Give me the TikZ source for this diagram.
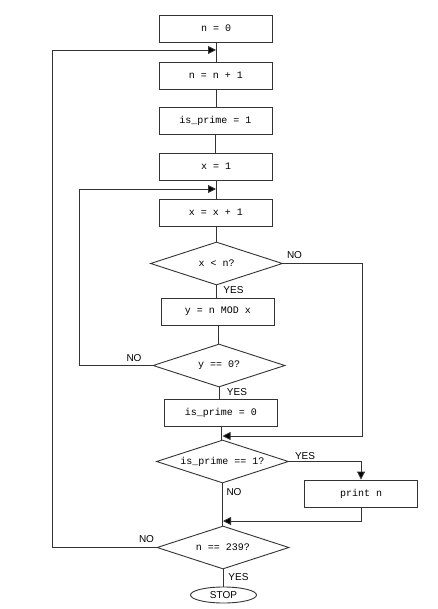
\documentclass[tikz,border=0pt]{standalone}
\usepackage{fontspec}
\setmainfont{Liberation Sans}
\newfontfamily\boxfont{Liberation Mono}
\usetikzlibrary{shapes.geometric,arrows.meta}
\tikzset{
  every picture/.style={x=1pt,y=-1pt},
  ln/.style={draw=black!80, line width=0.9pt},
  arr/.style={ln, -{Triangle[length=8pt,width=8pt,fill=black]}},
  procbox/.style={rectangle, ln, minimum width=113pt, minimum height=27pt, inner sep=0pt, font=\boxfont\fontsize{10}{12}\selectfont},
  decide/.style={diamond, ln, aspect=3.07, minimum width=132pt, minimum height=43pt, inner sep=0pt, font=\boxfont\fontsize{10}{12}\selectfont},
  term/.style={ellipse, ln, minimum width=66pt, minimum height=16pt, inner sep=0pt, font=\fontsize{10}{12}\selectfont},
  lbl/.style={inner sep=0pt, font=\fontsize{10}{12}\selectfont}
}
\begin{document}
\begin{tikzpicture}
\useasboundingbox[fill=white] (0,0) rectangle (437,609);
% nodes
\node[procbox] (n0)   at (216,28.5)  {n = 0};
\node[procbox] (n1)   at (216,75.5)  {n = n + 1};
\node[procbox] (ip1)  at (215.5,120.5) {is\_prime = 1};
\node[procbox] (x1)   at (216,166.5) {x = 1};
\node[procbox] (xx)   at (216,212.5) {x = x + 1};
\node[decide]  (d1)   at (216.5,263.5) {x < n?};
\node[procbox] (ym)   at (218,311.5) {y = n MOD x};
\node[decide]  (d2)   at (219,365.5) {y == 0?};
\node[procbox] (ip0)  at (221,413)   {is\_prime = 0};
\node[decide]  (d3)   at (222.5,461.5) {is\_prime == 1?};
\node[procbox] (pn)   at (361,493.5) {print n};
\node[decide]  (d4)   at (223,547.5) {n == 239?};
\node[term]    (stop) at (223.5,595) {STOP};
% labels
\node[lbl] (l1) at (294.5,255) {NO};
\node[lbl] (l2) at (233.5,290) {YES};
\node[lbl] (l3) at (134,358) {NO};
\node[lbl] (l4) at (237,392) {YES};
\node[lbl] (l5) at (305,456) {YES};
\node[lbl] (l6) at (234,492) {NO};
\node[lbl] (l7) at (146.5,539) {NO};
\node[lbl] (l8) at (238.5,577) {YES};
% junction coordinates
\coordinate (j1) at (216,50);
\coordinate (c1) at (52,50);
\coordinate (j2) at (216,189);
\coordinate (c2) at (79,189);
\coordinate (j3) at (222.5,436);
\coordinate (c3) at (362,436);
\coordinate (j4) at (223,521);
% connectors
\draw[ln] (n0.south) -- (n1.north);
\draw[ln] (n1.south) -- (n1.south |- ip1.north);
\draw[ln] (ip1.south) -- (ip1.south |- x1.north);
\draw[ln] (x1.south) -- (xx.north);
\draw[ln] (xx.south) -- (xx.south |- d1.north);
\draw[ln] (d1.south) -- (d1.south |- ym.north);
\draw[ln] (ym.south) -- (ym.south |- d2.north);
\draw[ln] (d2.south) -- (d2.south |- ip0.north);
\draw[ln] (ip0.south) -- (ip0.south |- d3.north);
\draw[ln] (d3.south) -- (d3.south |- d4.north);
\draw[ln] (d4.south) -- (d4.south |- stop.north);
\draw[arr] (d4.west) -| (c1) -- (j1);
\draw[arr] (d2.west) -| (c2) -- (j2);
\draw[arr] (d1.east) -| (c3) -- (j3);
\draw[arr] (d3.east) -| (pn.north);
\draw[arr] (pn.south) |- (j4);
\end{tikzpicture}
\end{document}
